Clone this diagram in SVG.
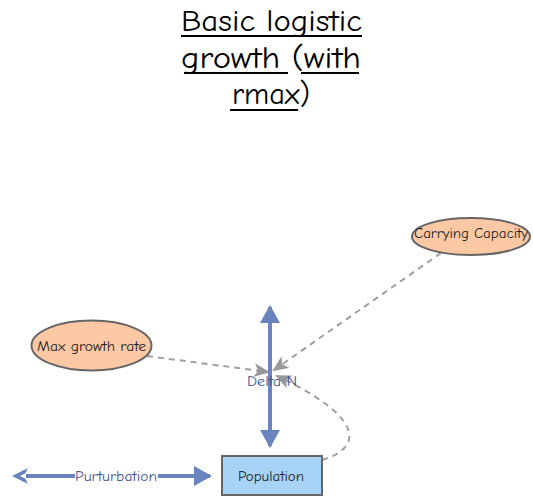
<svg xmlns="http://www.w3.org/2000/svg" width="533" height="498" viewBox="0 0 533 498">
<style>
text{font-family:"Comic Sans MS","Comic Neue","DejaVu Sans",sans-serif}
.title{font-size:30px;fill:#000}
.lbl{font-size:14px;fill:#222;dominant-baseline:central}
.flow{font-size:14px;fill:#3d5590;dominant-baseline:central}
.aux{fill:#fdc8a4;stroke:#666;stroke-width:2}
.stock{fill:#a6d3f6;stroke:#666;stroke-width:2}
.dash{fill:none;stroke:#a0a0a0;stroke-width:2;stroke-dasharray:6,5}
.pipe{fill:none;stroke:#6a84be;stroke-width:4}
.ul{stroke:#000;stroke-width:2}
</style>
<defs>
<marker id="fa" markerWidth="5" markerHeight="5" refX="4" refY="2.5" orient="auto" markerUnits="strokeWidth"><path d="M0,0 L4.5,2.5 L0,5 Z" fill="#6a84be"/></marker>
<marker id="ga" markerWidth="8" markerHeight="8" refX="7" refY="4" orient="auto" markerUnits="strokeWidth"><path d="M0,0.5 L8,4 L0,7.5 L2,4 Z" fill="#999"/></marker>
</defs>
<g id="title">
<text class="title" x="181" y="31" textLength="181" lengthAdjust="spacingAndGlyphs">Basic logistic</text>
<text class="title" x="181" y="68" textLength="180" lengthAdjust="spacingAndGlyphs">growth (with</text>
<text class="title" x="232" y="104" textLength="78" lengthAdjust="spacingAndGlyphs">rmax)</text>
<line class="ul" x1="181" y1="36" x2="362" y2="36"/>
<line class="ul" x1="184" y1="73" x2="288" y2="73"/>
<line class="ul" x1="301" y1="73" x2="359" y2="73"/>
<line class="ul" x1="230" y1="110" x2="298" y2="110"/>
</g>
<g id="connectors">
<path class="dash" d="M147,356 L268,372" marker-end="url(#ga)"/>
<path class="dash" d="M441,253 L274,370" marker-end="url(#ga)"/>
<path class="dash" d="M322,460 C368,446 358,414 277,376" marker-end="url(#ga)"/>
<line class="pipe" x1="270" y1="437" x2="270" y2="322"/>
<line class="pipe" x1="270" y1="322" x2="270" y2="307" marker-end="url(#fa)"/>
<line class="pipe" x1="270" y1="430" x2="270" y2="446" marker-end="url(#fa)"/>
<line class="pipe" x1="24" y1="476" x2="210" y2="476" marker-end="url(#fa)"/>
<path d="M12,476 L28,468 L24,476 L28,484 Z" fill="#6a84be"/>
<path d="M20,476 L26,473 L26,479 Z" fill="#fff"/>
</g>
<g id="deltaN">
<text class="flow" x="247" y="381" textLength="50" lengthAdjust="spacingAndGlyphs">Delta N</text>
</g>
<g id="perturbation">
<rect x="75" y="469" width="83" height="14" fill="#fff"/>
<text class="flow" x="75" y="476" textLength="82" lengthAdjust="spacingAndGlyphs">Purturbation</text>
</g>
<g id="maxgrowth">
<ellipse class="aux" cx="91.5" cy="345.5" rx="60" ry="25"/>
<text class="lbl" x="37" y="346" textLength="109" lengthAdjust="spacingAndGlyphs">Max growth rate</text>
</g>
<g id="carrying">
<ellipse class="aux" cx="471" cy="236.5" rx="59" ry="18.5"/>
<text class="lbl" x="414" y="233" textLength="114" lengthAdjust="spacingAndGlyphs">Carrying Capacity</text>
</g>
<g id="population">
<rect class="stock" x="222" y="456" width="100" height="39"/>
<text class="lbl" x="238" y="476" textLength="66" lengthAdjust="spacingAndGlyphs">Population</text>
</g>
</svg>
